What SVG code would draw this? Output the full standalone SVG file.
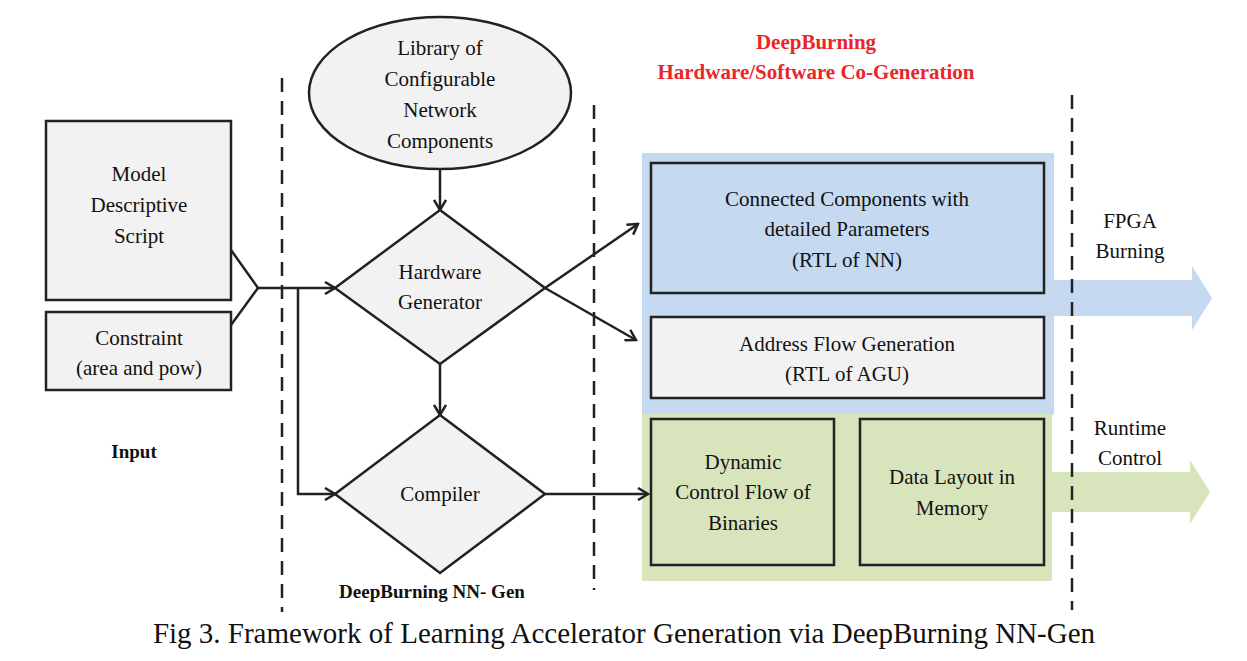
<svg xmlns="http://www.w3.org/2000/svg" width="1247" height="661" viewBox="0 0 1247 661">
<defs>
<style>
text{font-family:"Liberation Serif",serif;font-size:21px;fill:#111;text-anchor:middle}
.b{font-weight:bold;font-size:19px}
.r{fill:#e8262a;font-weight:bold;font-size:21px}
.n{fill:#f2f2f2;stroke:#222;stroke-width:2.5}
.g{fill:#d8e4bc;stroke:#222;stroke-width:2.5}
.bl{fill:#c5d9f1;stroke:#222;stroke-width:2.5}
.c{fill:none;stroke:#222;stroke-width:2.5}
.d{fill:none;stroke:#222;stroke-width:2.5;stroke-dasharray:14 9}
</style>
<marker id="a" markerWidth="14" markerHeight="14" refX="12" refY="7" orient="auto" markerUnits="userSpaceOnUse"><path d="M2,1 L12,7 L2,13" fill="none" stroke="#222" stroke-width="2.5"/></marker>
</defs>
<rect width="1247" height="661" fill="#fff"/>
<rect x="642" y="153" width="412" height="262" fill="#c5d9f1"/>
<rect x="642" y="414" width="410" height="167" fill="#d8e4bc"/>
<path d="M1054,280 H1192 V266 L1212,298 L1192,330 V316 H1054 Z" fill="#c5d9f1"/>
<path d="M1052,472 H1190 V460 L1210,492 L1190,524 V512 H1052 Z" fill="#d8e4bc"/>
<g id="dividers">
<line class="d" x1="282" y1="78" x2="282" y2="612"/>
<line class="d" x1="594" y1="105" x2="594" y2="590"/>
<line class="d" x1="1072" y1="95" x2="1072" y2="610"/>
</g>
<g id="connectors">
<path class="c" d="M231,250 L258,288 L231,325"/>
<path class="c" d="M258,288 H335" marker-end="url(#a)"/>
<path class="c" d="M298,288 V494 H335" marker-end="url(#a)"/>
<path class="c" d="M440,170 V210" marker-end="url(#a)"/>
<path class="c" d="M440,364 V415" marker-end="url(#a)"/>
<path class="c" d="M545,288 L638,224" marker-end="url(#a)"/>
<path class="c" d="M545,288 L636,340" marker-end="url(#a)"/>
<path class="c" d="M545,494 H648" marker-end="url(#a)"/>
</g>
<g id="model"><rect class="n" x="46" y="121" width="185" height="179"/><text x="139" y="181">Model</text><text x="139" y="212">Descriptive</text><text x="139" y="243">Script</text></g>
<g id="constraint"><rect class="n" x="46" y="312" width="185" height="78"/><text x="139" y="345">Constraint</text><text x="139" y="375">(area and pow)</text></g>
<g id="library"><ellipse class="n" cx="440" cy="93" rx="131" ry="76"/><text x="440" y="55">Library of</text><text x="440" y="86">Configurable</text><text x="440" y="117">Network</text><text x="440" y="148">Components</text></g>
<g id="hwgen"><polygon class="n" points="440,210 545,288 440,364 335,288"/><text x="440" y="279">Hardware</text><text x="440" y="309">Generator</text></g>
<g id="compiler"><polygon class="n" points="440,415 545,494 440,573 335,494"/><text x="440" y="501">Compiler</text></g>
<g id="rtlnn"><rect class="bl" x="651" y="163" width="393" height="130"/><text x="847" y="206">Connected Components with</text><text x="847" y="236">detailed Parameters</text><text x="847" y="267">(RTL of NN)</text></g>
<g id="agu"><rect class="n" x="651" y="317" width="393" height="81"/><text x="847" y="351">Address Flow Generation</text><text x="847" y="381">(RTL of AGU)</text></g>
<g id="dcf"><rect class="g" x="651" y="419" width="183" height="146"/><text x="743" y="469">Dynamic</text><text x="743" y="499">Control Flow of</text><text x="743" y="530">Binaries</text></g>
<g id="layout"><rect class="g" x="860" y="419" width="184" height="146"/><text x="952" y="484">Data Layout in</text><text x="952" y="515">Memory</text></g>
<g id="labels">
<text class="r" x="816" y="49">DeepBurning</text>
<text class="r" x="816" y="79">Hardware/Software Co-Generation</text>
<text x="1130" y="228">FPGA</text><text x="1130" y="258">Burning</text>
<text x="1130" y="435">Runtime</text><text x="1130" y="465">Control</text>
<text class="b" x="134" y="458">Input</text>
<text class="b" x="432" y="598">DeepBurning NN- Gen</text>
<text x="624" y="643" style="font-size:29px">Fig 3. Framework of Learning Accelerator Generation via DeepBurning NN-Gen</text>
</g>
</svg>
